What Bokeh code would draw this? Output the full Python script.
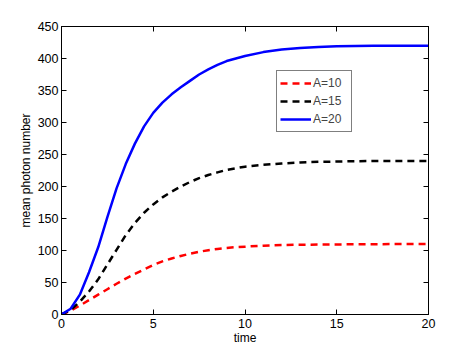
from bokeh.plotting import figure
from bokeh.models import LinearAxis, Range1d, FixedTicker, Legend, LegendItem
from bokeh.embed import file_html
from bokeh.resources import INLINE

# data
t = [0, 0.5, 1, 1.5, 2, 2.5, 3, 3.5, 4, 4.5, 5, 5.5, 6, 6.5, 7, 7.5, 8, 8.5, 9, 9.5, 10,
     11, 12, 13, 14, 15, 16, 17, 18, 19, 20]
a10 = [0, 6, 14, 22.5, 31, 39.5, 48, 56, 63.5, 70.5, 77.5, 83, 87.5, 91.5, 95, 98, 100.5, 102.5, 104, 105.2, 106,
       107.5, 108.5, 109, 109.3, 109.5, 109.7, 109.8, 110, 110, 110]
a15 = [0, 7, 20, 36, 55, 78, 101, 124, 143, 159, 172, 183, 192, 200, 207, 213, 218, 222, 226, 228.5, 231,
       234, 236, 237.5, 238.5, 239, 239.5, 240, 240, 240, 240]
a20 = [0, 9, 31, 66, 105, 152, 197, 235, 267, 294, 315, 331, 344, 355, 365, 375, 383, 390, 396, 400, 404,
       410, 414, 416.5, 418, 419, 419.5, 420, 420, 420, 420]
labels = ["A=10", "A=15", "A=20"]
colors = ["#ff0000", "#000000", "#0000ff"]
dashes = ["7 5", "7 5", "solid"]
xticks = [0, 5, 10, 15, 20]
yticks = [0, 50, 100, 150, 200, 250, 300, 350, 400, 450]

FONT = "Liberation Sans"

p = figure(width=466, height=347, output_backend="svg", toolbar_location=None,
           x_range=Range1d(0, 20), y_range=Range1d(0, 450),
           min_border_left=61, min_border_right=38, min_border_top=26, min_border_bottom=32,
           background_fill_color="white", border_fill_color="white")
p.grid.visible = False
p.outline_line_color = "black"
p.outline_line_width = 1


def base_style(ax):
    ax.axis_line_color = "black"
    ax.major_tick_line_color = "black"
    ax.major_tick_in = 5
    ax.major_tick_out = 0
    ax.minor_tick_line_color = "black"
    ax.minor_tick_in = 5
    ax.minor_tick_out = 0
    ax.major_label_text_font = FONT
    ax.major_label_text_color = "black"
    ax.major_label_text_font_size = "12.5px"


xa = p.xaxis[0]
ya = p.yaxis[0]
xa.ticker = FixedTicker(ticks=xticks)
ya.ticker = FixedTicker(ticks=yticks)
for ax in (xa, ya):
    base_style(ax)
    ax.minor_tick_line_color = None

# box ticks on top and right (no labels): use minor ticks only
top = LinearAxis(ticker=FixedTicker(ticks=[], minor_ticks=xticks))
right = LinearAxis(ticker=FixedTicker(ticks=[], minor_ticks=yticks))
for ax in (top, right):
    base_style(ax)
    ax.major_label_standoff = 0
p.add_layout(top, "above")
p.add_layout(right, "right")

xa.major_label_standoff = 4
ya.major_label_standoff = 3
xa.axis_label = "time"
ya.axis_label = "mean photon number"
for ax in (xa, ya):
    ax.axis_label_text_font = FONT
    ax.axis_label_text_font_size = "12px"
    ax.axis_label_text_font_style = "normal"
    ax.axis_label_text_color = "black"
    ax.axis_label_standoff = 2
xa.axis_label_standoff = 0

items = []
for ys, lab, c, d in zip([a10, a15, a20], labels, colors, dashes):
    r = p.line(t, ys, line_color=c, line_width=2.5, line_dash=d)
    items.append(LegendItem(label=lab, renderers=[r]))

leg = Legend(items=items, location=(215, 182), padding=3, spacing=0, margin=0,
             label_height=18, glyph_height=18, glyph_width=31, label_standoff=2,
             label_width=35, label_text_font=FONT, label_text_font_size="12px",
             border_line_color="black", border_line_width=1,
             background_fill_color="white", background_fill_alpha=1)
p.add_layout(leg)

open("out.html", "w").write(file_html(p, INLINE))
